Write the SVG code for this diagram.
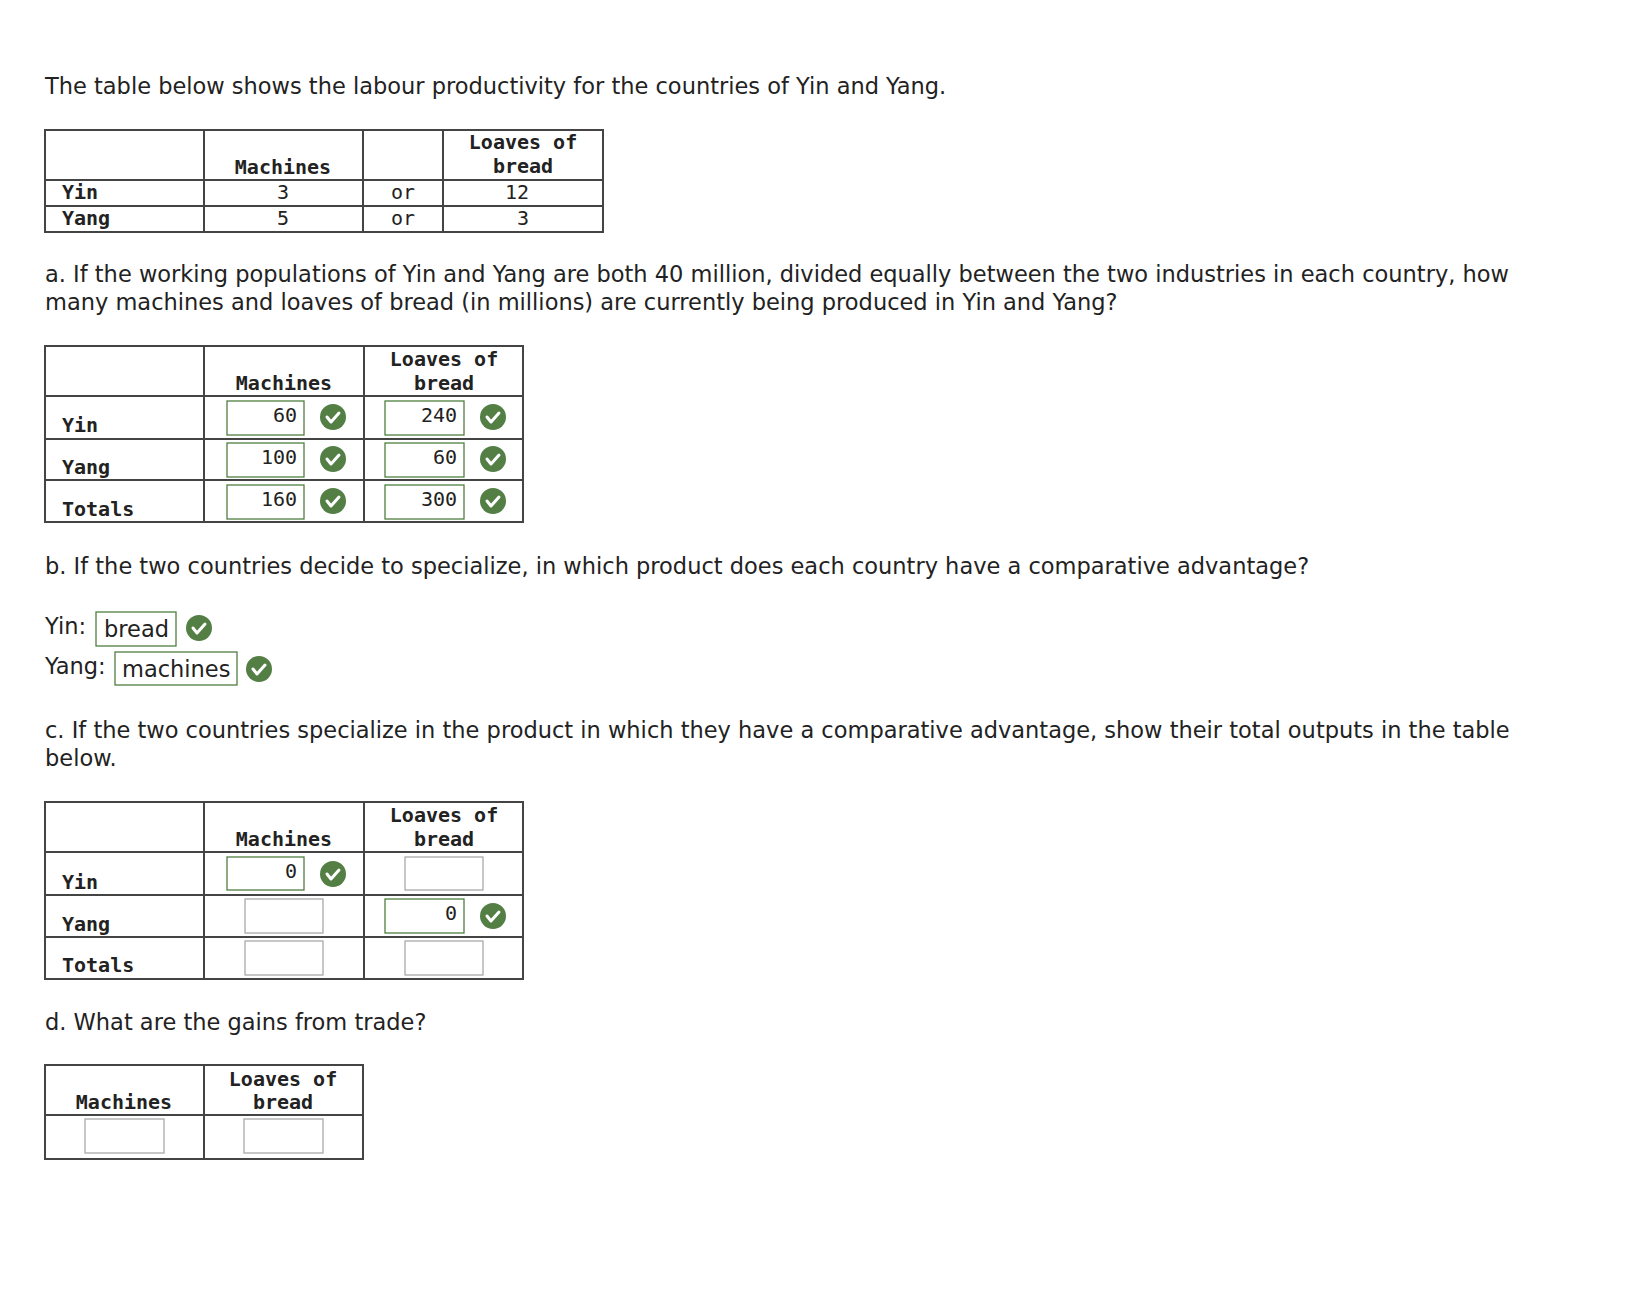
<svg xmlns="http://www.w3.org/2000/svg" width="1630" height="1312" viewBox="0 0 1630 1312">
<style>
.t{font-family:"DejaVu Sans","Liberation Sans",sans-serif;font-size:22.5px;fill:#222}
.h{font-family:"DejaVu Sans Mono",monospace;font-size:20px;font-weight:bold;fill:#222}
.m{font-family:"DejaVu Sans Mono",monospace;font-size:20px;fill:#222}
.g{fill:none;stroke:#444;stroke-width:2}
.ok{fill:#fff;stroke:#4f7f3f;stroke-width:1.3}
.em{fill:#fff;stroke:#aaa;stroke-width:1.3}
.c{fill:#537f45}
.k{fill:none;stroke:#fff;stroke-width:3;stroke-linecap:round;stroke-linejoin:round}
</style>
<defs>
<g id="chk"><circle class="c" r="13"/><path class="k" d="M-6,0 L-2,5 L6,-4"/></g>
</defs>
<rect width="1630" height="1312" fill="#fff"/>
<text class="t" x="45" y="94">The table below shows the labour productivity for the countries of Yin and Yang.</text>

<g id="table1">
<rect class="g" x="45" y="130" width="558" height="102"/>
<path class="g" d="M204,130V232M363,130V232M443,130V232M45,180H603M45,206H603"/>
<text class="h" x="283" y="174" text-anchor="middle">Machines</text>
<text class="h" x="523" y="149" text-anchor="middle">Loaves of</text>
<text class="h" x="523" y="173" text-anchor="middle">bread</text>
<text class="h" x="62" y="199">Yin</text>
<text class="h" x="62" y="225">Yang</text>
<text class="m" x="283" y="199" text-anchor="middle">3</text>
<text class="m" x="283" y="225" text-anchor="middle">5</text>
<text class="m" x="403" y="199" text-anchor="middle">or</text>
<text class="m" x="403" y="225" text-anchor="middle">or</text>
<text class="m" x="517" y="199" text-anchor="middle">12</text>
<text class="m" x="523" y="225" text-anchor="middle">3</text>
</g>

<text class="t" x="45" y="282">a. If the working populations of Yin and Yang are both 40 million, divided equally between the two industries in each country, how</text>
<text class="t" x="45" y="310">many machines and loaves of bread (in millions) are currently being produced in Yin and Yang?</text>

<g id="table2">
<rect class="g" x="45" y="346" width="478" height="176"/>
<path class="g" d="M204,346V522M364,346V522M45,396H523M45,439H523M45,480H523"/>
<text class="h" x="284" y="390" text-anchor="middle">Machines</text>
<text class="h" x="444" y="366" text-anchor="middle">Loaves of</text>
<text class="h" x="444" y="390" text-anchor="middle">bread</text>
<text class="h" x="62" y="432">Yin</text>
<text class="h" x="62" y="474">Yang</text>
<text class="h" x="62" y="516">Totals</text>
<rect class="ok" x="227" y="401" width="77" height="34"/><text class="m" x="297" y="422" text-anchor="end">60</text><use href="#chk" x="333" y="417"/>
<rect class="ok" x="385" y="401" width="79" height="34"/><text class="m" x="457" y="422" text-anchor="end">240</text><use href="#chk" x="493" y="417"/>
<rect class="ok" x="227" y="443" width="77" height="34"/><text class="m" x="297" y="464" text-anchor="end">100</text><use href="#chk" x="333" y="459"/>
<rect class="ok" x="385" y="443" width="79" height="34"/><text class="m" x="457" y="464" text-anchor="end">60</text><use href="#chk" x="493" y="459"/>
<rect class="ok" x="227" y="485" width="77" height="34"/><text class="m" x="297" y="506" text-anchor="end">160</text><use href="#chk" x="333" y="501"/>
<rect class="ok" x="385" y="485" width="79" height="34"/><text class="m" x="457" y="506" text-anchor="end">300</text><use href="#chk" x="493" y="501"/>
</g>

<text class="t" x="45" y="574">b. If the two countries decide to specialize, in which product does each country have a comparative advantage?</text>
<g id="answerB">
<text class="t" x="45" y="634">Yin:</text>
<rect class="ok" x="96" y="612" width="80" height="34"/><text class="t" x="104" y="637">bread</text><use href="#chk" x="199" y="628"/>
<text class="t" x="45" y="674">Yang:</text>
<rect class="ok" x="115" y="652" width="122" height="33"/><text class="t" x="122" y="677">machines</text><use href="#chk" x="259" y="669"/>
</g>

<text class="t" x="45" y="738">c. If the two countries specialize in the product in which they have a comparative advantage, show their total outputs in the table</text>
<text class="t" x="45" y="766">below.</text>

<g id="table3">
<rect class="g" x="45" y="802" width="478" height="177"/>
<path class="g" d="M204,802V979M364,802V979M45,852H523M45,895H523M45,937H523"/>
<text class="h" x="284" y="846" text-anchor="middle">Machines</text>
<text class="h" x="444" y="822" text-anchor="middle">Loaves of</text>
<text class="h" x="444" y="846" text-anchor="middle">bread</text>
<text class="h" x="62" y="889">Yin</text>
<text class="h" x="62" y="931">Yang</text>
<text class="h" x="62" y="972">Totals</text>
<rect class="ok" x="227" y="857" width="77" height="33"/><text class="m" x="297" y="878" text-anchor="end">0</text><use href="#chk" x="333" y="874"/>
<rect class="em" x="405" y="857" width="78" height="33"/>
<rect class="em" x="245" y="899" width="78" height="34"/>
<rect class="ok" x="385" y="899" width="79" height="34"/><text class="m" x="457" y="920" text-anchor="end">0</text><use href="#chk" x="493" y="916"/>
<rect class="em" x="245" y="941" width="78" height="34"/>
<rect class="em" x="405" y="941" width="78" height="34"/>
</g>

<text class="t" x="45" y="1030">d. What are the gains from trade?</text>

<g id="table4">
<rect class="g" x="45" y="1065" width="318" height="94"/>
<path class="g" d="M204,1065V1159M45,1115H363"/>
<text class="h" x="124" y="1109" text-anchor="middle">Machines</text>
<text class="h" x="283" y="1086" text-anchor="middle">Loaves of</text>
<text class="h" x="283" y="1109" text-anchor="middle">bread</text>
<rect class="em" x="85" y="1119" width="79" height="34"/>
<rect class="em" x="244" y="1119" width="79" height="34"/>
</g>
</svg>
